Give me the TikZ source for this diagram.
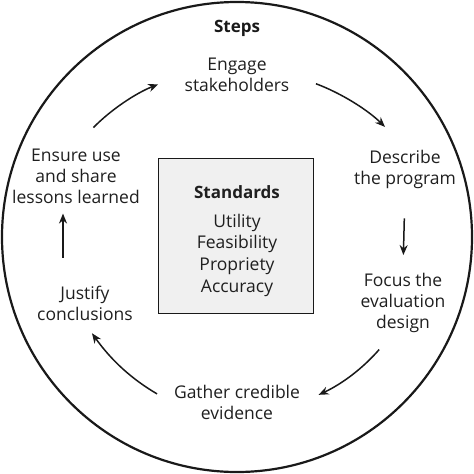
\documentclass[tikz,border=0pt]{standalone}
\usepackage{fontspec}
\setmainfont{Open Sans}
\usetikzlibrary{arrows.meta}

\begin{document}
\begin{tikzpicture}[x=1pt, y=-1pt,
every edge/.style = {draw, -{Stealth[length=10pt,width=8pt]}, line width=1.5pt, black!90},
         T/.style = {align=center, inner sep=3pt, text=black!88,
                     font=\fontsize{17.5}{21}\selectfont},
         H/.style = {text=black!90, font=\fontsize{17}{20}\selectfont\bfseries}
                    ]
\useasboundingbox (0,0) rectangle (474,474);
\draw[line width=2.2pt, black!90] (237,237) circle (235);

\node (steps) [H] at (237,28) {Steps};
\node (std) [draw, line width=1.8pt, draw=black!90, fill=gray!12, minimum size=155] at (236,236) {};
\node (stdlist) [T, font=\fontsize{17.5}{21.7}\selectfont] at (237,241)
      {{\fontsize{17}{20}\selectfont\bfseries Standards}\\[7pt]
       Utility\\ Feasibility\\ Propriety\\ Accuracy};

\node (engage)  [T] at (237,75)  {Engage\\ stakeholders};
\node (describe)[T] at (405,169) {Describe\\ the program};
\node (focus)   [T] at (403,303) {Focus the\\ evaluation\\ design};
\node (gather)  [T] at (237,402) {Gather credible\\ evidence};
\node (justify) [T] at (85,303)  {Justify\\ conclusions};
\node (ensure)  [T] at (76,176)  {Ensure use\\ and share\\ lessons learned};

\draw   (engage.east)   edge [bend left=12, shorten <=25pt, shorten >=28pt] (describe.north)
        (describe.south) edge [shorten <=27pt, shorten >=15pt] (focus.north)
        (focus.-110)    edge [bend left=12, shorten <=18pt, shorten >=17pt] (gather.east)
        (gather.west)   edge [bend left=12, shorten <=16pt, shorten >=12pt] (justify.south)
        ([xshift=-22pt]justify.north) edge [shorten <=25pt, shorten >=7pt] ([xshift=-13pt]ensure.south)
        (ensure.north)  edge [bend left=12, shorten <=25pt, shorten >=25pt] (engage.west);
\end{tikzpicture}
\end{document}
